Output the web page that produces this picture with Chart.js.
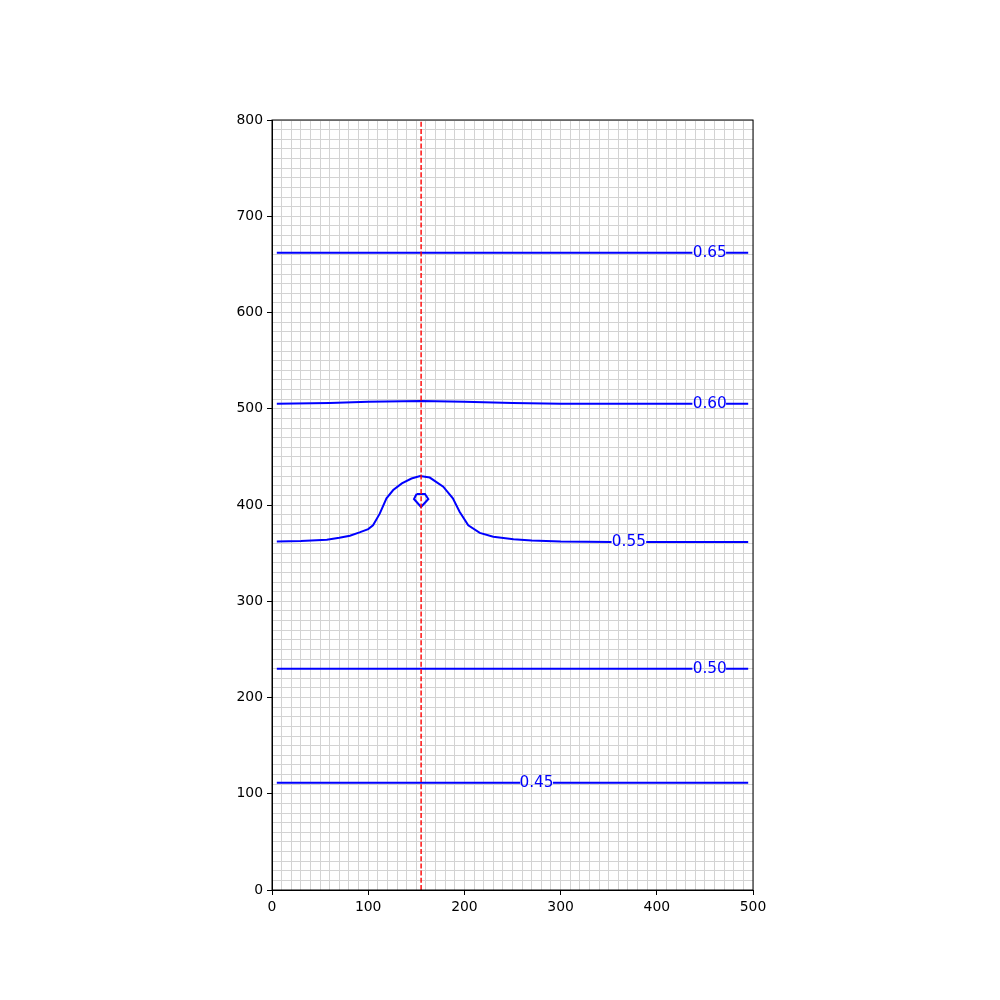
<!DOCTYPE html>
<html>
<head>
<meta charset="utf-8">
<script src="https://cdn.jsdelivr.net/npm/chart.js@4"></script>
<style>
  body { margin: 0; background: #fff; }
</style>
</head>
<body>
<canvas id="myChart" width="1000" height="1000"></canvas>
<script>
// contour levels, each line broken where its label sits (null = gap)
let x65 = [5, 437, null, 472, 495];
let y65 = [662, 662, null, 662, 662];

let x60 = [5, 60, 100, 155, 200, 250, 300, 437, null, 472, 495];
let y60 = [505.2, 506, 507.2, 508, 507.2, 506, 505.3, 505.2, null, 505.2, 505.2];

let x55 = [5, 30, 57, 70, 81, 91, 100, 105, 112, 119, 126, 135, 145, 154, 164, 178, 188, 195, 204, 216, 230, 251, 270, 300, 353, null, 389, 495];
let y55 = [362, 362.5, 364, 366, 368, 371.5, 375, 379, 391, 407, 415.5, 422.5, 427.5, 430, 428.5, 419, 407, 393, 379, 371, 367, 364.4, 363, 362, 361.5, null, 361.5, 361.5];

// small closed loop of the 0.55 level
let xLoop = [150.3, 159, 162.5, 154.9, 147.6, 150.3];
let yLoop = [411.4, 411.4, 406.2, 397.9, 406.2, 411.4];

let x50 = [5, 437, null, 472, 495];
let y50 = [230, 230, null, 230, 230];

let x45 = [5, 258, null, 292, 495];
let y45 = [111.5, 111.5, null, 111.5, 111.5];

// red dashed marker
let markX = [155, 155];
let markY = [0, 800];

// inline contour labels
let labelText = ["0.65", "0.60", "0.55", "0.50", "0.45"];
let labelX = [455, 455, 371, 455, 275];
let labelY = [662, 505.2, 361.5, 230, 111.5];

function toPoints(xs, ys) {
  return xs.map((x, i) => ({ x: x, y: ys[i] }));
}

function blueLine(xs, ys) {
  return {
    data: toPoints(xs, ys),
    showLine: true,
    borderColor: "#0000ff",
    borderWidth: 2,
    pointRadius: 0,
    tension: 0,
    spanGaps: false,
    order: 1
  };
}

const FONT = { family: "DejaVu Sans", size: 13.9 };
const LABEL_SIZE = 15.3;

// top and right spines
const frame = {
  id: "frame",
  afterDraw(chart) {
    let a = chart.chartArea;
    let ctx = chart.ctx;
    ctx.save();
    ctx.strokeStyle = "#000";
    ctx.lineWidth = 1;
    ctx.strokeRect(a.left, a.top, a.right - a.left, a.bottom - a.top);
    ctx.restore();
  }
};

const contourLabels = {
  id: "contourLabels",
  afterDatasetsDraw(chart) {
    let ctx = chart.ctx;
    let xs = chart.scales.x;
    let ys = chart.scales.y;
    ctx.save();
    ctx.fillStyle = "#0000ff";
    ctx.font = LABEL_SIZE + "px " + FONT.family;
    ctx.textAlign = "center";
    ctx.textBaseline = "middle";
    labelText.forEach((t, i) => {
      ctx.fillText(t, xs.getPixelForValue(labelX[i]), ys.getPixelForValue(labelY[i]));
    });
    ctx.restore();
  }
};

function axis(max, isY) {
  return {
    type: "linear",
    min: 0,
    max: max,
    ticks: {
      stepSize: 10,
      autoSkip: false,
      maxRotation: 0,
      padding: 4,
      color: "#000",
      font: FONT,
      callback: v => (v % 100 === 0 ? v : "")
    },
    grid: {
      color: "#d3d3d3",
      lineWidth: 1,
      tickLength: 5,
      tickWidth: 1,
      tickColor: c => (c.tick && c.tick.value % 100 === 0 ? "#000" : "rgba(0,0,0,0)")
    },
    border: { display: true, color: "#000", width: 1 },
    afterFit: s => {
      if (isY) s.width = 60;
      else s.height = 40;
    }
  };
}

let ctx = document.getElementById("myChart").getContext("2d");

let myChart = new Chart(ctx, {
  type: "scatter",
  data: {
    datasets: [
      {
        data: toPoints(markX, markY),
        showLine: true,
        borderColor: "#ff0000",
        borderWidth: 1.4,
        borderDash: [5, 2.2],
        pointRadius: 0,
        order: 0
      },
      blueLine(x65, y65),
      blueLine(x60, y60),
      blueLine(x55, y55),
      blueLine(xLoop, yLoop),
      blueLine(x50, y50),
      blueLine(x45, y45)
    ]
  },
  options: {
    responsive: false,
    animation: false,
    layout: { padding: { left: 212, right: 247, top: 120, bottom: 70 } },
    plugins: {
      legend: { display: false },
      tooltip: { enabled: false }
    },
    scales: {
      x: axis(500, false),
      y: axis(800, true)
    }
  },
  plugins: [frame, contourLabels]
});
</script>
</body>
</html>
